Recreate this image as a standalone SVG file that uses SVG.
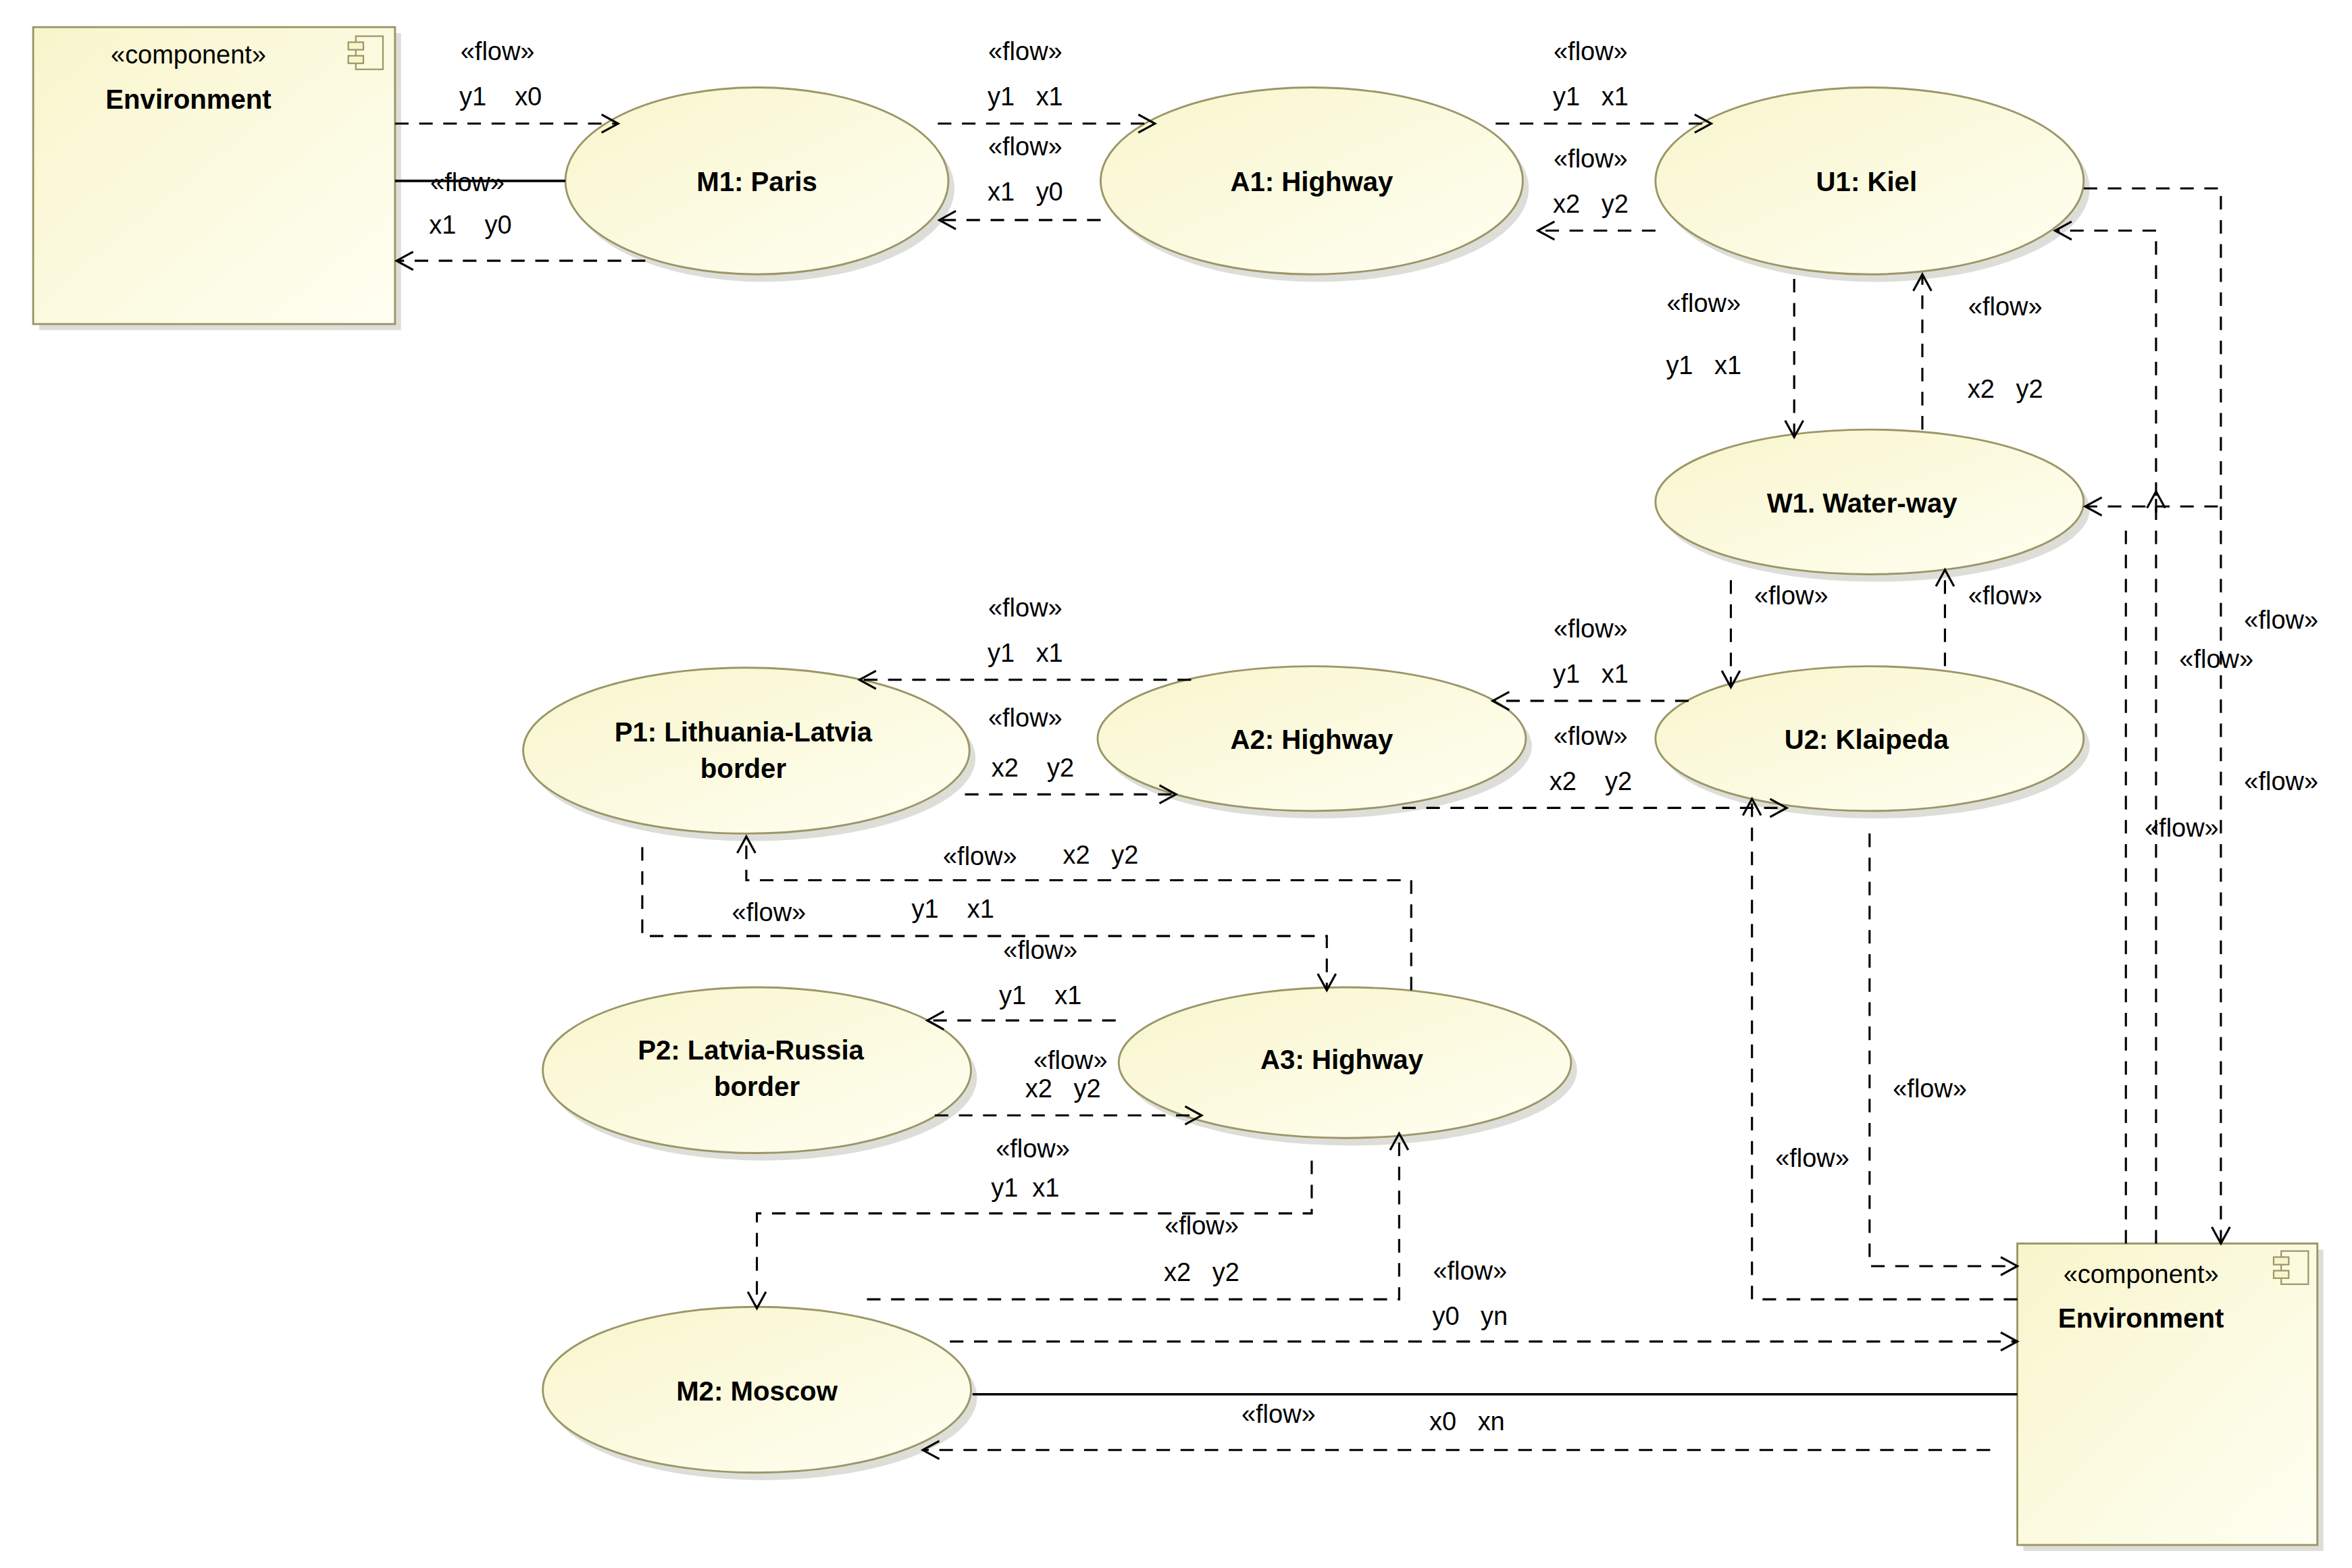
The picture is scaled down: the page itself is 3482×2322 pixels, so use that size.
<svg xmlns="http://www.w3.org/2000/svg" width="3482" height="2322" viewBox="0 0 3482 2322">
<style>
.n{fill:url(#g);stroke:#9c9668;stroke-width:1.3}
.sh{fill:#c8c8c0;opacity:.6}
.c{fill:none;stroke:#000;stroke-width:1.4;stroke-dasharray:9 7}
.s{fill:none;stroke:#000;stroke-width:1.6}
.t{font-family:"Liberation Sans",Arial,sans-serif;font-size:17px;fill:#000;text-anchor:middle;white-space:pre}
.b{font-family:"Liberation Sans",Arial,sans-serif;font-size:18px;font-weight:bold;fill:#000;text-anchor:middle}
</style>
<defs>
<linearGradient id="g" x1="0" y1="0" x2="1" y2="1"><stop offset="0" stop-color="#f8f5cc"/><stop offset="1" stop-color="#fffff2"/></linearGradient>
<marker id="a" markerWidth="14" markerHeight="14" refX="12" refY="7" orient="auto" markerUnits="userSpaceOnUse"><path d="M1,1 L12,7 L1,13" fill="none" stroke="#000" stroke-width="1.4"/></marker>
</defs>
<rect width="3482" height="2322" fill="#fff"/>
<g transform="scale(2.2321)">
<g id="env1"><rect x="26" y="22" width="240" height="197" class="sh"/><rect x="22" y="18" width="240" height="197" class="n"/><rect x="236" y="24" width="18" height="22" fill="none" stroke="#9c9668"/><rect x="231" y="28" width="10" height="5" fill="#f8f5cc" stroke="#9c9668"/><rect x="231" y="37" width="10" height="5" fill="#f8f5cc" stroke="#9c9668"/><text x="125" y="42" class="t">«component»</text><text x="125" y="72" class="b">Environment</text></g>
<g id="m1"><ellipse cx="506" cy="125" rx="127" ry="62" class="sh"/><ellipse cx="502" cy="120" rx="127" ry="62" class="n"/><text x="502" y="127" class="b">M1: Paris</text></g>
<g id="a1"><ellipse cx="874" cy="125" rx="140" ry="62" class="sh"/><ellipse cx="870" cy="120" rx="140" ry="62" class="n"/><text x="870" y="127" class="b">A1: Highway</text></g>
<g id="u1"><ellipse cx="1244" cy="125" rx="142" ry="62" class="sh"/><ellipse cx="1240" cy="120" rx="142" ry="62" class="n"/><text x="1238" y="127" class="b">U1: Kiel</text></g>
<g id="w1"><ellipse cx="1244" cy="338" rx="142" ry="48" class="sh"/><ellipse cx="1240" cy="333" rx="142" ry="48" class="n"/><text x="1235" y="340" class="b">W1. Water-way</text></g>
<g id="u2"><ellipse cx="1244" cy="495" rx="142" ry="48" class="sh"/><ellipse cx="1240" cy="490" rx="142" ry="48" class="n"/><text x="1238" y="497" class="b">U2: Klaipeda</text></g>
<g id="a2"><ellipse cx="874" cy="495" rx="142" ry="48" class="sh"/><ellipse cx="870" cy="490" rx="142" ry="48" class="n"/><text x="870" y="497" class="b">A2: Highway</text></g>
<g id="p1"><ellipse cx="499" cy="503" rx="148" ry="55" class="sh"/><ellipse cx="495" cy="498" rx="148" ry="55" class="n"/><text x="493" y="492" class="b">P1: Lithuania-Latvia</text><text x="493" y="516" class="b">border</text></g>
<g id="p2"><ellipse cx="506" cy="715" rx="142" ry="55" class="sh"/><ellipse cx="502" cy="710" rx="142" ry="55" class="n"/><text x="498" y="703" class="b">P2: Latvia-Russia</text><text x="502" y="727" class="b">border</text></g>
<g id="a3"><ellipse cx="896" cy="710" rx="150" ry="50" class="sh"/><ellipse cx="892" cy="705" rx="150" ry="50" class="n"/><text x="890" y="709" class="b">A3: Highway</text></g>
<g id="m2"><ellipse cx="506" cy="927" rx="142" ry="55" class="sh"/><ellipse cx="502" cy="922" rx="142" ry="55" class="n"/><text x="502" y="929" class="b">M2: Moscow</text></g>
<g id="env2"><rect x="1342" y="829" width="199" height="200" class="sh"/><rect x="1338" y="825" width="199" height="200" class="n"/><rect x="1513" y="830" width="18" height="22" fill="none" stroke="#9c9668"/><rect x="1508" y="834" width="10" height="5" fill="#f8f5cc" stroke="#9c9668"/><rect x="1508" y="843" width="10" height="5" fill="#f8f5cc" stroke="#9c9668"/><text x="1420" y="851" class="t">«component»</text><text x="1420" y="881" class="b">Environment</text></g>
<g id="connectors">
<path class="c" d="M262,82 H410" marker-end="url(#a)"/>
<path class="s" d="M262,120 H375"/>
<path class="c" d="M428,173 H263" marker-end="url(#a)"/>
<path class="c" d="M622,82 H766" marker-end="url(#a)"/>
<path class="c" d="M730,146 H623" marker-end="url(#a)"/>
<path class="c" d="M992,82 H1135" marker-end="url(#a)"/>
<path class="c" d="M1098,153 H1020" marker-end="url(#a)"/>
<path class="c" d="M1190,185 V290" marker-end="url(#a)"/>
<path class="c" d="M1275,285 V182" marker-end="url(#a)"/>
<path class="c" d="M1382,125 H1473 V336 H1383" marker-end="url(#a)"/>
<path class="c" d="M1473,336 V825" marker-end="url(#a)"/>
<path class="c" d="M1430,825 V153 H1363" marker-end="url(#a)"/>
<path class="c" d="M1430,340 V326" marker-end="url(#a)"/>
<path class="c" d="M1410,825 V345"/>
<path class="c" d="M1148,385 V456" marker-end="url(#a)"/>
<path class="c" d="M1290,442 V378" marker-end="url(#a)"/>
<path class="c" d="M1120,465 H990" marker-end="url(#a)"/>
<path class="c" d="M930,536 H1185" marker-end="url(#a)"/>
<path class="c" d="M790,451 H570" marker-end="url(#a)"/>
<path class="c" d="M640,527 H780" marker-end="url(#a)"/>
<path class="c" d="M936,657 V584 H495 V555" marker-end="url(#a)"/>
<path class="c" d="M426,562 V621 H880 V657" marker-end="url(#a)"/>
<path class="c" d="M740,677 H615" marker-end="url(#a)"/>
<path class="c" d="M620,740 H797" marker-end="url(#a)"/>
<path class="c" d="M870,770 V805 H502 V868" marker-end="url(#a)"/>
<path class="c" d="M575,862 H928 V752" marker-end="url(#a)"/>
<path class="c" d="M1338,862 H1162 V530" marker-end="url(#a)"/>
<path class="c" d="M1240,553 V840 H1338" marker-end="url(#a)"/>
<path class="c" d="M630,890 H1338" marker-end="url(#a)"/>
<path class="s" d="M645,925 H1338"/>
<path class="c" d="M1320,962 H612" marker-end="url(#a)"/>
<text class="t" x="330" y="40">«flow»</text><text class="t" x="332" y="70">y1    x0</text>
<text class="t" x="310" y="127">«flow»</text><text class="t" x="312" y="155">x1    y0</text>
<text class="t" x="680" y="40">«flow»</text><text class="t" x="680" y="70">y1   x1</text>
<text class="t" x="680" y="103">«flow»</text><text class="t" x="680" y="133">x1   y0</text>
<text class="t" x="1055" y="40">«flow»</text><text class="t" x="1055" y="70">y1   x1</text>
<text class="t" x="1055" y="111">«flow»</text><text class="t" x="1055" y="141">x2   y2</text>
<text class="t" x="1130" y="207">«flow»</text><text class="t" x="1130" y="248">y1   x1</text>
<text class="t" x="1330" y="209">«flow»</text><text class="t" x="1330" y="264">x2   y2</text>
<text class="t" x="1513" y="417">«flow»</text><text class="t" x="1513" y="524">«flow»</text>
<text class="t" x="1470" y="443">«flow»</text><text class="t" x="1447" y="555">«flow»</text>
<text class="t" x="1188" y="401">«flow»</text><text class="t" x="1330" y="401">«flow»</text>
<text class="t" x="1055" y="423">«flow»</text><text class="t" x="1055" y="453">y1   x1</text>
<text class="t" x="1055" y="494">«flow»</text><text class="t" x="1055" y="524">x2    y2</text>
<text class="t" x="680" y="409">«flow»</text><text class="t" x="680" y="439">y1   x1</text>
<text class="t" x="680" y="482">«flow»</text><text class="t" x="685" y="515">x2    y2</text>
<text class="t" x="650" y="574">«flow»</text><text class="t" x="730" y="573">x2   y2</text>
<text class="t" x="510" y="611">«flow»</text><text class="t" x="632" y="609">y1    x1</text>
<text class="t" x="690" y="636">«flow»</text><text class="t" x="690" y="666">y1    x1</text>
<text class="t" x="710" y="709">«flow»</text><text class="t" x="705" y="728">x2   y2</text>
<text class="t" x="685" y="768">«flow»</text><text class="t" x="680" y="794">y1  x1</text>
<text class="t" x="797" y="819">«flow»</text><text class="t" x="797" y="850">x2   y2</text>
<text class="t" x="975" y="849">«flow»</text><text class="t" x="975" y="879">y0   yn</text>
<text class="t" x="1280" y="728">«flow»</text><text class="t" x="1202" y="774">«flow»</text>
<text class="t" x="848" y="944">«flow»</text><text class="t" x="973" y="949">x0   xn</text>
</g>
</g>
</svg>
